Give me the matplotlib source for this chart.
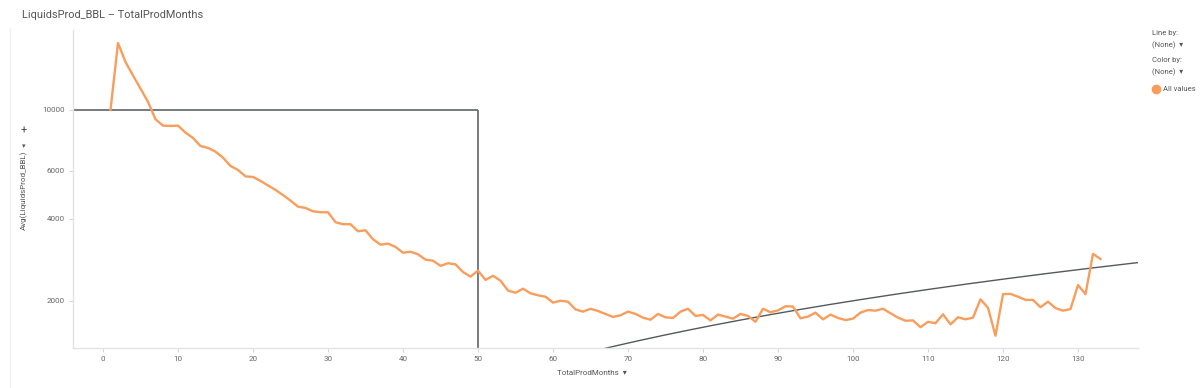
import matplotlib
matplotlib.use("Agg")
import matplotlib.pyplot as plt
from matplotlib.ticker import FixedLocator, FuncFormatter, NullLocator
from matplotlib.lines import Line2D
import numpy as np

plt.rcParams['font.family'] = ['Roboto', 'DejaVu Sans']

# ---- data ----
months = list(range(1, 134))
avg_liquids = [
    10000, 17590, 14990, 13380, 11970, 10710, 9245, 8760, 8740, 8760,
    8260, 7900, 7380, 7260, 7035, 6690, 6235, 6030, 5710, 5685,
    5495, 5290, 5095, 4880, 4655, 4425, 4375, 4255, 4220, 4220,
    3880, 3815, 3815, 3595, 3625, 3360, 3210, 3240, 3150, 3000,
    3025, 2960, 2830, 2805, 2685, 2745, 2720, 2550, 2450, 2580,
    2385, 2470, 2370, 2180, 2140, 2215, 2130, 2095, 2070, 1970,
    2000, 1985, 1860, 1825, 1870, 1835, 1790, 1745, 1770, 1825,
    1790, 1735, 1705, 1790, 1740, 1730, 1825, 1870, 1760, 1775,
    1695, 1780, 1750, 1720, 1790, 1760, 1675, 1870, 1815, 1845,
    1910, 1905, 1725, 1750, 1810, 1710, 1780, 1730, 1700, 1720,
    1810, 1850, 1840, 1870, 1800, 1735, 1690, 1695, 1600, 1675,
    1655, 1785, 1640, 1740, 1710, 1735, 2025, 1885, 1490, 2115,
    2120, 2070, 2015, 2015, 1895, 1985, 1880, 1840, 1865, 2285,
    2115, 2970, 2845,
]
y_ticks = [2000, 4000, 6000, 10000]
x_ticks = list(range(0, 140, 10))

# reference lines
limit_value = 10000      # horizontal limit
limit_month = 50         # vertical limit
trend_slope = 20         # straight trend line: value = slope * month
trend_range = (60, 140)  # months over which the trend line is drawn

title = "LiquidsProd_BBL \u2013 TotalProdMonths"
x_label = "TotalProdMonths"
y_label = "Avg(LiquidsProd_BBL)"

# ---- figure ----
W, H = 1200, 388
fig = plt.figure(figsize=(W / 100, H / 100), dpi=100)
fig.patch.set_facecolor("white")

left, right, bottom, top = 73, 1138, 348, 30
ax = fig.add_axes([left / W, (H - bottom) / H, (right - left) / W, (bottom - top) / H])

xlim = (-4, 138)
ylim = (1343, 19630)
ax.set_xlim(*xlim)
ax.set_yscale("log")
ax.set_ylim(*ylim)

line_col = "#6b6e74"
ax.hlines(limit_value, xlim[0], limit_month, color=line_col, lw=1.3, zorder=2)
ax.vlines(limit_month, ylim[0], limit_value, color=line_col, lw=1.3, zorder=2)
tm = np.linspace(trend_range[0], trend_range[1], 200)
ax.plot(tm, trend_slope * tm, color="#55585e", lw=1.0, zorder=2)

ax.plot(months, avg_liquids, color="#F99D5C", lw=1.7, zorder=3,
        solid_joinstyle="round")

# axes styling
for s in ["top", "right"]:
    ax.spines[s].set_visible(False)
for s in ["left", "bottom"]:
    ax.spines[s].set_color("#e3e3e6")
    ax.spines[s].set_linewidth(1.0)

ax.yaxis.set_major_locator(FixedLocator(y_ticks))
ax.yaxis.set_minor_locator(NullLocator())
ax.yaxis.set_major_formatter(FuncFormatter(lambda v, p: f"{int(v)}"))
ax.xaxis.set_major_locator(FixedLocator(x_ticks))
ax.tick_params(axis="both", which="major", labelsize=5.8, labelcolor="#666666",
               color="#d6d6d9", length=3, width=0.8, pad=3)

# title
fig.text(22 / W, 1 - 15 / H, title, fontsize=7.9, color="#555555",
         ha="left", va="center")

# axis labels
fig.text(592 / W, 1 - 373 / H, x_label + "  \u25BE", fontsize=5.8,
         color="#555555", ha="center", va="center")
fig.text(24 / W, 1 - 190 / H, y_label, fontsize=5.8, color="#555555",
         ha="center", va="center", rotation=90)
fig.text(24 / W, 1 - 147 / H, "\u25BE", fontsize=5, color="#555555",
         ha="center", va="center")
fig.text(24 / W, 1 - 131 / H, "+", fontsize=8, color="#444444",
         ha="center", va="center")

# legend / controls on the right
lc = "#555555"
fig.text(1152 / W, 1 - 33 / H, "Line by:", fontsize=5.5, color=lc, ha="left", va="center")
fig.text(1152 / W, 1 - 45 / H, "(None)  \u25BE", fontsize=5.5, color=lc, ha="left", va="center")
fig.text(1152 / W, 1 - 60 / H, "Color by:", fontsize=5.5, color=lc, ha="left", va="center")
fig.text(1152 / W, 1 - 72 / H, "(None)  \u25BE", fontsize=5.5, color=lc, ha="left", va="center")
fig.add_artist(Line2D([1156 / W], [1 - 89 / H], marker="o", markersize=6,
                      color="#F99D5C", transform=fig.transFigure))
fig.text(1163 / W, 1 - 89 / H, "All values", fontsize=5.5, color=lc, ha="left", va="center")

# faint panel border
fig.add_artist(Line2D([10 / W, 10 / W], [0, 1 - 28 / H], color="#f0f0f3", lw=1,
                      transform=fig.transFigure))

fig.savefig("out.png", dpi=100, facecolor="white")
